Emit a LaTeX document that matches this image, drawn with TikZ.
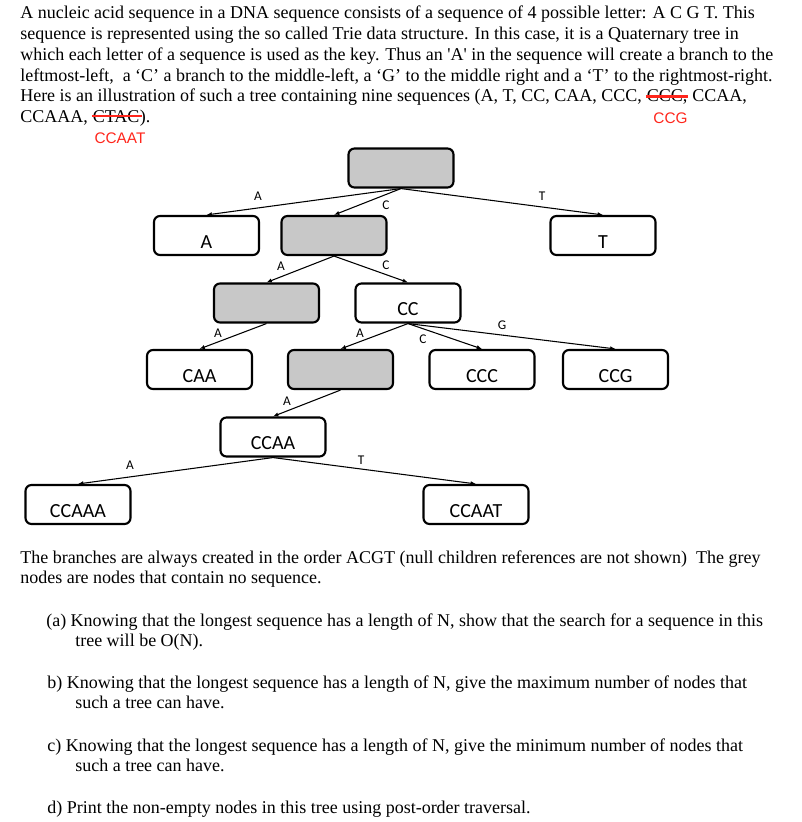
\documentclass[tikz,border=0pt]{standalone}
\usepackage{fontspec}
\setmainfont{Liberation Serif}
\newfontfamily\calibri{Carlito}
\newfontfamily\arial{Liberation Sans}
\usetikzlibrary{arrows.meta}
\definecolor{nodegrey}{RGB}{200,200,200}
\definecolor{fixred}{RGB}{255,38,28}
\tikzset{
  seqnode/.style={draw, line width=1.6pt, rounded corners=4.5pt, minimum width=78.75pt,
    inner sep=0pt, text height=24pt, text depth=5.25pt, font=\calibri\fontsize{15}{18}\selectfont},
  greynode/.style={seqnode, fill=nodegrey},
  branch/.style={line width=0.8pt, -{Latex[length=4pt,width=3.2pt]}},
  keylabel/.style={inner sep=0pt, font=\calibri\fontsize{10}{12}\selectfont},
  para/.style={anchor=base west, inner sep=0pt, font=\fontsize{13.5}{16}\selectfont},
  fixtext/.style={anchor=base, inner sep=0pt, text=fixred, font=\arial\fontsize{11.5}{14}\selectfont},
  strikeline/.style={draw=fixred, line width=1.8pt}
}
\begin{document}
\begin{tikzpicture}[x=0.75pt, y=-0.75pt]
\useasboundingbox (0,0) rectangle (802,822);
% question text
\node[para] (l1) at (20,18) {A nucleic acid sequence in a DNA sequence consists of a sequence of 4 possible letter: A C G T. This};
\node[para] (l2) at (20,39) {sequence is represented using the so called Trie data structure. In this case, it is a Quaternary tree in};
\node[para] (l3) at (20,60) {which each letter of a sequence is used as the key. Thus an \textquotesingle A\textquotesingle\ in the sequence will create a branch to the};
\node[para] (l4) at (20,81) {leftmost-left,~ a ‘C’ a branch to the middle-left, a ‘G’ to the middle right and a ‘T’ to the rightmost-right.};
\node[para] (l5a) at (20,101) {Here is an illustration of such a tree containing nine sequences (A, T, CC, CAA, CCC,\ \null};
\node[para] (l5s) at (l5a.base east) {CCC,};
\node[para] (l5b) at (l5s.base east) {\ CCAA,};
\node[para] (l6a) at (20,122.5) {CCAAA,\ \null};
\node[para] (l6s) at (l6a.base east) {CTAC};
\node[para] (l6b) at (l6s.base east) {).};
% corrections
\draw[strikeline] ([xshift=-0.5pt,yshift=3.5pt]l5s.base west) -- ([xshift=0.5pt,yshift=3.5pt]l5s.base east);
\draw[strikeline] ([xshift=-0.5pt,yshift=5pt]l6s.base west) -- ([xshift=2pt,yshift=5pt]l6s.base east);
\node[fixtext] (fixccg) at (670.5,123) {CCG};
\node[fixtext] (fixccaat) at (120,143) {CCAAT};
% trie
\node[greynode] (nroot) at (401,168) {};
\node[seqnode] (nA) at (206.5,235.5) {A};
\node[greynode] (nC) at (334,235.5) {};
\node[seqnode] (nT) at (603,235.5) {T};
\node[greynode] (nCA) at (266.5,303) {};
\node[seqnode] (nCC) at (408,303) {CC};
\node[seqnode] (nCAA) at (199.5,369.5) {CAA};
\node[greynode] (nCCA) at (340.5,369.5) {};
\node[seqnode] (nCCC) at (482,369.5) {CCC};
\node[seqnode] (nCCG) at (615.5,369.5) {CCG};
\node[seqnode] (nCCAA) at (273,437) {CCAA};
\node[seqnode] (nCCAAA) at (78,504.5) {CCAAA};
\node[seqnode] (nCCAAT) at (476,504.5) {CCAAT};
\draw[branch] (nroot.south) -- (nA.north);
\draw[branch] (nroot.south) -- (nC.north);
\draw[branch] (nroot.south) -- (nT.north);
\draw[branch] (nC.south) -- (nCA.north);
\draw[branch] (nC.south) -- (nCC.north);
\draw[branch] (nCA.south) -- (nCAA.north);
\draw[branch] (nCC.south) -- (nCCA.north);
\draw[branch] (nCC.south) -- (nCCC.north);
\draw[branch] (nCC.south) -- (nCCG.north);
\draw[branch] (nCCA.south) -- (nCCAA.north);
\draw[branch] (nCCAA.south) -- (nCCAAA.north);
\draw[branch] (nCCAA.south) -- (nCCAAT.north);
% branch keys
\node[keylabel] (kroota) at (258,196) {A};
\node[keylabel] (krootc) at (386,205) {C};
\node[keylabel] (krootT) at (542,196) {T};
\node[keylabel] (kca) at (281,266) {A};
\node[keylabel] (kcc) at (386,265) {C};
\node[keylabel] (kcaa) at (218,333) {A};
\node[keylabel] (kcca) at (360,333) {A};
\node[keylabel] (kccc) at (423,339) {C};
\node[keylabel] (kccg) at (502,325) {G};
\node[keylabel] (kccaa) at (287,401) {A};
\node[keylabel] (kccaaa) at (130,465) {A};
\node[keylabel] (kccaat) at (361,460) {T};
% remarks and questions
\node[para] (r1) at (20,563) {The branches are always created in the order ACGT (null children references are not shown)\ \ The grey};
\node[para] (r2) at (20,583) {nodes are nodes that contain no sequence.};
\node[para] (qa1) at (46,626) {(a) Knowing that the longest sequence has a length of N, show that the search for a sequence in this};
\node[para] (qa2) at (75,646) {tree will be O(N).};
\node[para] (qb1) at (47,688) {b) Knowing that the longest sequence has a length of N, give the maximum number of nodes that};
\node[para] (qb2) at (75,708) {such a tree can have.};
\node[para] (qc1) at (47,751) {c) Knowing that the longest sequence has a length of N, give the minimum number of nodes that};
\node[para] (qc2) at (75,771) {such a tree can have.};
\node[para] (qd) at (47,813) {d) Print the non-empty nodes in this tree using post-order traversal.};
\end{tikzpicture}
\end{document}
